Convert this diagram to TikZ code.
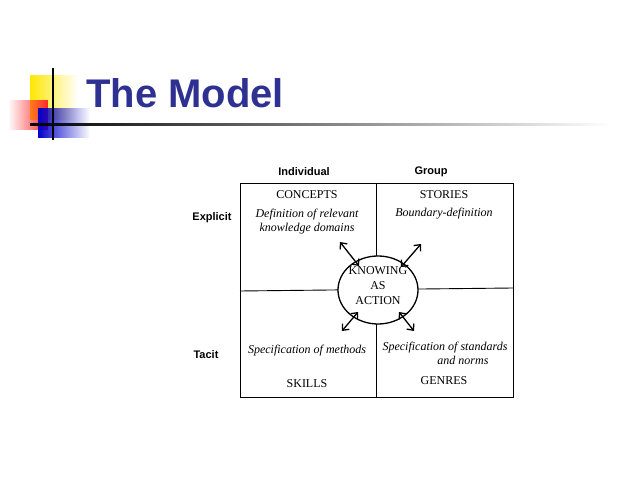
\documentclass[tikz,border=0pt]{standalone}
\usepackage{fontspec}
\setmainfont{Liberation Serif}
\newfontfamily\hd{Liberation Sans}
\usetikzlibrary{fadings,arrows.meta}
\definecolor{ttl}{RGB}{46,49,146}
\tikzset{
  lbl/.style={font=\hd\bfseries\fontsize{11}{13}\selectfont},
  it/.style={font=\itshape\fontsize{12}{14}\selectfont, align=center},
  up/.style={font=\fontsize{12}{13}\selectfont, align=center},
  dbl/.style={{Straight Barb[length=5pt,width=9pt]}-{Straight Barb[length=5pt,width=9pt]}, line width=1.3pt}
}
\begin{document}
\begin{tikzpicture}[x=1pt,y=-1pt]
\useasboundingbox (0,0) rectangle (638,478);
% decoration
\fill[yellow!90!orange, path fading=east] (30,75) rectangle (78,120);
\fill[red!85!white, path fading=west] (8,100) rectangle (48,130);
\fill[blue!80!black, path fading=east] (38,108) rectangle (90,138);
\draw[line width=1.2pt] (53,68) -- (53,140);
\shade[left color=black, right color=white] (30,124) rectangle (610,126);
\node[anchor=west, text=ttl, font=\hd\bfseries\fontsize{40}{44}\selectfont, inner sep=0] (title) at (86,93) {The Model};
% grid
\draw (240,183) rectangle (513,397);
\draw (376,183) -- (376,397);
\draw[line width=0.9pt] (240,291) -- (513,288);
\draw[line width=1.3pt, fill=white] (378,290) ellipse [x radius=40, y radius=34];
\node[up, font=\fontsize{12}{15}\selectfont] (k) at (378,286) {KNOWING\\AS\\ACTION};
% arrows
\coordinate (a1) at (340,242); \coordinate (b1) at (359,266);
\coordinate (a2) at (421,244); \coordinate (b2) at (401,267);
\coordinate (a3) at (342,331); \coordinate (b3) at (358,312);
\coordinate (a4) at (414,331); \coordinate (b4) at (399,312);
\draw[dbl] (a1) -- (b1);
\draw[dbl] (a2) -- (b2);
\draw[dbl] (a3) -- (b3);
\draw[dbl] (a4) -- (b4);
% labels
\node[lbl] (ind) at (304,172) {Individual};
\node[lbl] (grp) at (431,172) {Group};
\node[lbl] (exp) at (212,218) {Explicit};
\node[lbl] (tac) at (206,355) {Tacit};
\node[up] (c1) at (307,195) {CONCEPTS};
\node[up] (c2) at (444,195) {STORIES};
\node[it] (d1) at (307,222) {Definition of relevant\\knowledge domains};
\node[it] (d2) at (444,214) {Boundary-definition};
\node[it] (d3) at (307,351) {Specification of methods};
\node[it] (d4) at (445,353) {Specification of standards\\\hspace*{3em}and norms};
\node[up] (s1) at (307,384) {SKILLS};
\node[up] (s2) at (444,381) {GENRES};
\end{tikzpicture}
\end{document}
